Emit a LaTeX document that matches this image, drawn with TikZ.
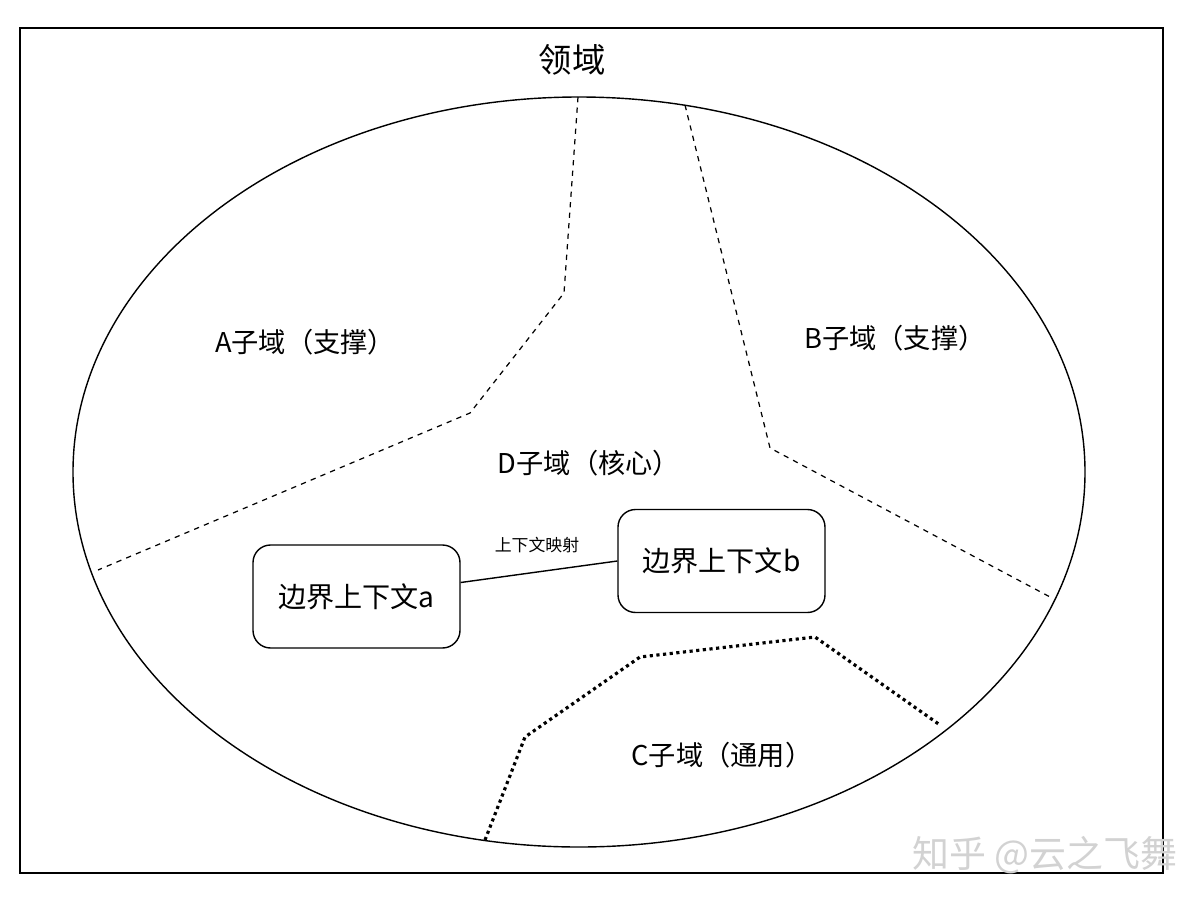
\documentclass[tikz,border=0pt]{standalone}
\usepackage{fontspec}
\setmainfont{Noto Sans CJK SC}
\begin{document}
\begin{tikzpicture}[x=0.02cm,y=-0.02cm,
  lbl/.style={font=\fontsize{15.5}{17}\selectfont},
  ctx/.style={draw,rounded corners=10pt,line width=0.8pt,minimum width=207*0.02cm,minimum height=103*0.02cm,font=\fontsize{16}{18}\selectfont}]
\useasboundingbox (0,0) rectangle (1200,903);
\fill[white] (0,0) rectangle (1200,903);
\draw[line width=0.8pt] (20,28) rectangle (1163,873);
\draw[line width=0.8pt] (579,472) ellipse [x radius=506, y radius=375];
\node[font=\fontsize{19}{21}\selectfont] (t) at (572,60) {领域};
\draw[dashed,line width=0.7pt] (578,97) -- (564,293) -- (470,413) -- (98,570);
\draw[dashed,line width=0.7pt] (685,105) -- (770,448) -- (1052,598);
\draw[dotted,line width=1.8pt] (485,840) -- (525,737) -- (640,657) -- (815,637) -- (940,725);
\node[lbl] (A) at (305,342) {A子域（支撑）};
\node[lbl] (B) at (895,338) {B子域（支撑）};
\node[lbl] (D) at (589,463) {D子域（核心）};
\node[lbl] (C) at (722,755) {C子域（通用）};
\node[ctx] (a) at (356.5,596.5) {边界上下文a};
\node[ctx] (b) at (721.5,561) {边界上下文b};
\path (a.east) ++(0,-14) coordinate (ae);
\draw[line width=0.8pt] (ae) -- (b.west);
\node[font=\fontsize{9.6}{11}\selectfont] (m) at (537,545) {上下文映射};
\node[font=\fontsize{21}{23}\selectfont,text=gray!35] (w) at (1045,855) {知乎 @云之飞舞};
\end{tikzpicture}
\end{document}
